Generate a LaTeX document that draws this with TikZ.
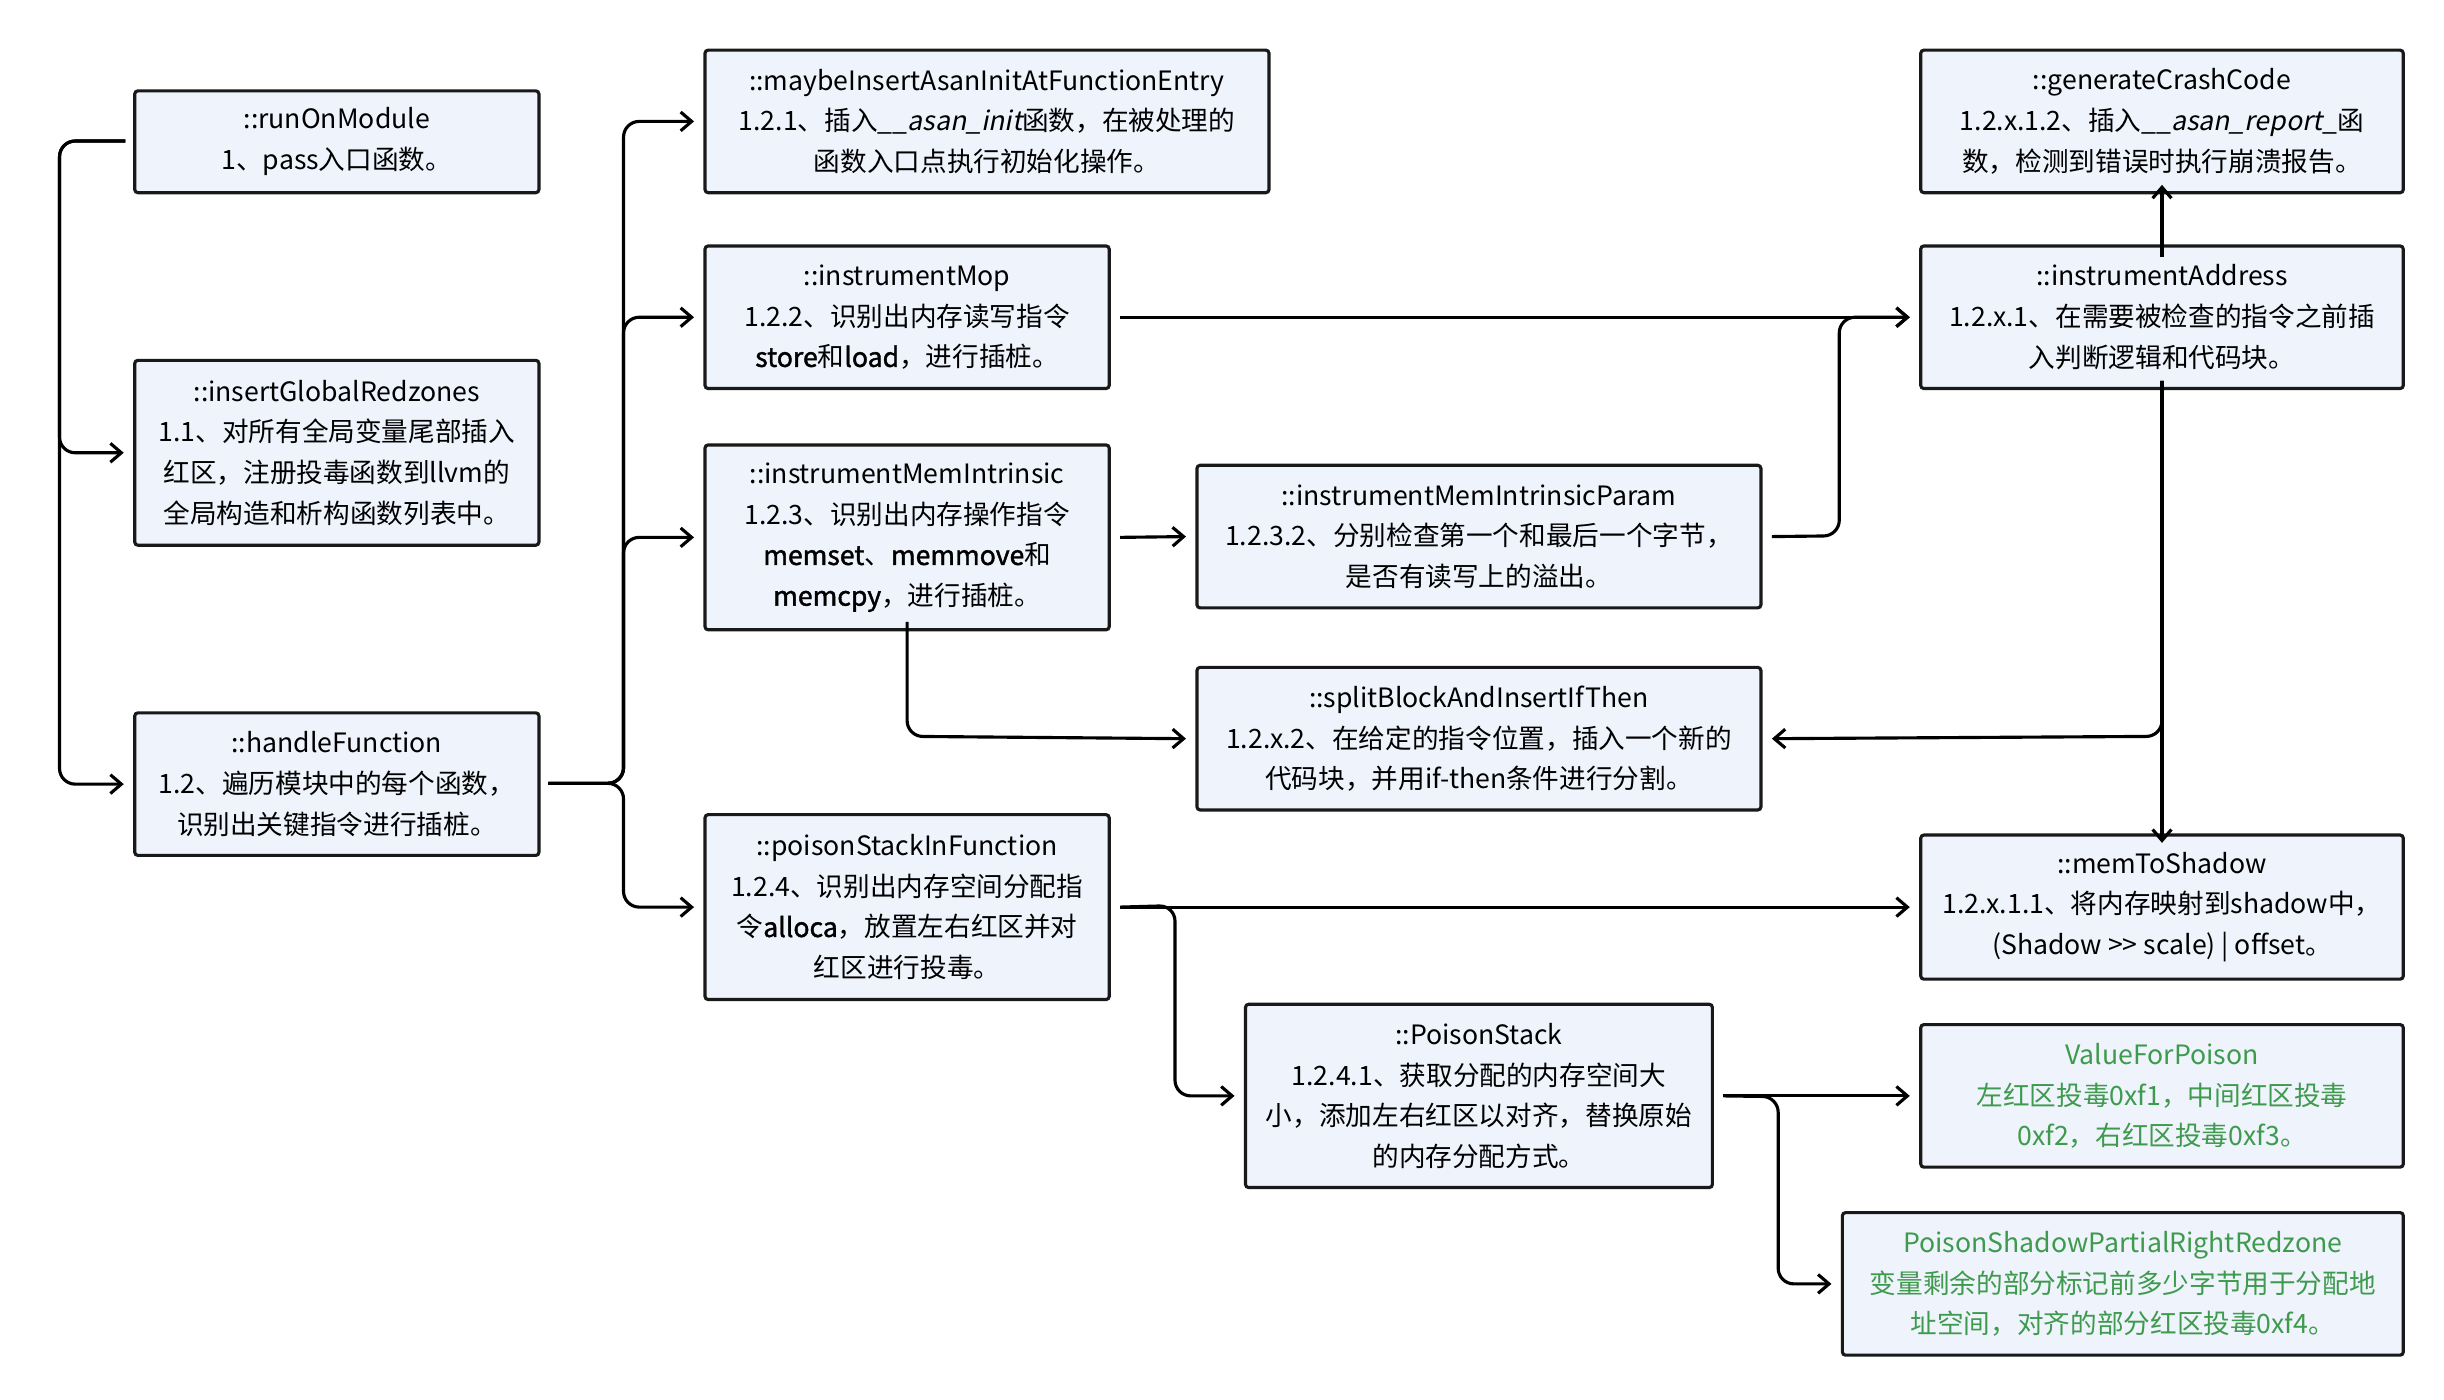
\documentclass[tikz,border=0pt]{standalone}
\usepackage{fontspec}
\setmainfont{Noto Sans CJK SC}[AutoFakeSlant=0.2,AutoFakeBold=1.5]
\usetikzlibrary{arrows.meta}
\definecolor{boxfill}{HTML}{EEF3FC}
\definecolor{grn}{HTML}{3E9A4C}
\begin{document}
\begin{tikzpicture}[x=1pt,y=-1pt,
 box/.style={draw=black!90,line width=2pt,fill=boxfill,rounded corners=2pt,align=center,inner sep=0pt,font=\fontsize{17}{26}\selectfont},
 g/.style={box,text=grn},
 ar/.style={line width=2pt,-{Straight Barb[length=7pt,width=12pt]},rounded corners=10pt}]
\useasboundingbox (0,0) rectangle (1560,893.6);
\def\B#1#2#3#4#5#6{\node[#6,minimum width=#3-#1,minimum height=#4-#2] (#5) at ({(#1+#3)/2},{(#2+#4)/2})}
\B{86}{58}{344}{123}{run}{box}{::runOnModule\\1、pass入口函数。};
\B{86}{230}{344}{348}{glob}{box}{::insertGlobalRedzones\\1.1、对所有全局变量尾部插入\\红区，注册投毒函数到llvm的\\全局构造和析构函数列表中。};
\B{86}{455}{344}{546}{hf}{box}{::handleFunction\\1.2、遍历模块中的每个函数，\\识别出关键指令进行插桩。};
\B{450}{32}{810}{123}{maybe}{box}{::maybeInsertAsanInitAtFunctionEntry\\1.2.1、插入\_\_\textit{asan\_init}函数，在被处理的\\函数入口点执行初始化操作。};
\B{450}{157}{708}{248}{mop}{box}{::instrumentMop\\1.2.2、识别出内存读写指令\\\textbf{store}和\textbf{load}，进行插桩。};
\B{450}{284}{708}{402}{mi}{box}{::instrumentMemIntrinsic\\1.2.3、识别出内存操作指令\\\textbf{memset}、\textbf{memmove}和\\\textbf{memcpy}，进行插桩。};
\B{764}{297}{1124}{388}{mip}{box}{::instrumentMemIntrinsicParam\\1.2.3.2、分别检查第一个和最后一个字节，\\是否有读写上的溢出。};
\B{764}{426}{1124}{517}{sb}{box}{::splitBlockAndInsertIfThen\\1.2.x.2、在给定的指令位置，插入一个新的\\代码块，并用if-then条件进行分割。};
\B{450}{520}{708}{638}{ps}{box}{::poisonStackInFunction\\1.2.4、识别出内存空间分配指\\令\textbf{alloca}，放置左右红区并对\\红区进行投毒。};
\B{795}{641}{1093}{758}{pst}{box}{::PoisonStack\\1.2.4.1、获取分配的内存空间大\\小，添加左右红区以对齐，替换原始\\的内存分配方式。};
\B{1226}{32}{1534}{123}{gcc}{box}{::generateCrashCode\\1.2.x.1.2、插入\_\_\textit{asan\_report}\_函\\数，检测到错误时执行崩溃报告。};
\B{1226}{157}{1534}{248}{ia}{box}{::instrumentAddress\\1.2.x.1、在需要被检查的指令之前插\\入判断逻辑和代码块。};
\B{1226}{533}{1534}{625}{mts}{box}{::memToShadow\\1.2.x.1.1、将内存映射到shadow中，\\(Shadow >{}> scale) | offset。};
\B{1226}{654}{1534}{745}{vfp}{g}{ValueForPoison\\左红区投毒0xf1，中间红区投毒\\0xf2，右红区投毒0xf3。};
\B{1176}{774}{1534}{865}{pspr}{g}{PoisonShadowPartialRightRedzone\\变量剩余的部分标记前多少字节用于分配地\\址空间，对齐的部分红区投毒0xf4。};
% connectors
\coordinate (r0) at (80,90);
\draw[ar] (r0) -- (38,90) |- ([xshift=-6pt]glob.west);
\draw[ar] (r0) -- (38,90) |- ([xshift=-6pt]hf.west);
\coordinate (h0) at (350,500);
\foreach \t in {maybe,mop,mi,ps}{\draw[ar] (h0) -- (398,500) |- ([xshift=-6pt]\t.west);}
\draw[ar] ([xshift=6pt]mop.east) -- ([xshift=-6pt]ia.west);
\draw[ar] ([xshift=6pt]mi.east) -- ([xshift=-6pt]mip.west);
\draw[ar] ([xshift=6pt]mip.east) -- (1174,342) |- ([xshift=-6pt]ia.west);
\draw[ar] ([yshift=6pt]mi.south) -- (579,470) -- ([xshift=-6pt]sb.west);
\draw[ar] ([yshift=6pt]ia.south) -- ([yshift=-6pt]mts.north);
\draw[ar] ([yshift=6pt]ia.south) -- (1380,470) -- ([xshift=6pt]sb.east);
\draw[ar] ([yshift=-8pt]ia.north) -- ([yshift=6pt]gcc.south);
\draw[ar] ([xshift=6pt]ps.east) -- ([xshift=-6pt]mts.west);
\draw[ar] ([xshift=6pt]ps.east) -- (750,578) |- ([xshift=-6pt]pst.west);
\draw[ar] ([xshift=6pt]pst.east) -- ([xshift=-6pt]vfp.west);
\draw[ar] ([xshift=6pt]pst.east) -- (1135,700) |- ([xshift=-6pt]pspr.west);
\end{tikzpicture}
\end{document}
